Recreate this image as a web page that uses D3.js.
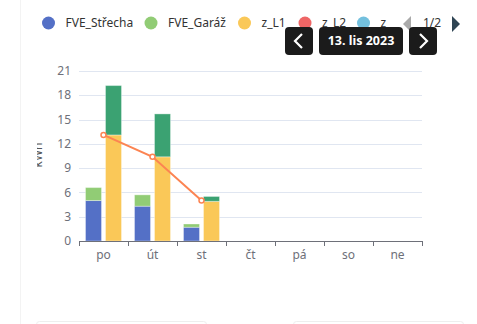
<!DOCTYPE html>
<html><head><meta charset="utf-8">
<script src="https://cdn.jsdelivr.net/npm/d3@7"></script>
<style>body{margin:0;background:#fff;}svg{display:block;font-family:"Noto Sans","Open Sans",sans-serif;}</style>
</head><body><svg id="c" width="477" height="324"></svg>
<script>
const categories = ["po","út","st","čt","pá","so","ne"];
const fveStrecha = [5.0, 4.3, 1.7, 0, 0, 0, 0];
const fveGaraz   = [1.6, 1.4, 0.4, 0, 0, 0, 0];
const zL1        = [13.1, 10.4, 4.9, 0, 0, 0, 0];
const zL2        = [0, 0, 0, 0, 0, 0, 0];
const zL3        = [0, 0, 0, 0, 0, 0, 0];
const zOstatni   = [6.1, 5.3, 0.6, 0, 0, 0, 0];
const lineVals   = [13.1, 10.4, 5.0];
const yTicks = [0,3,6,9,12,15,18,21];
const legendNames = ["FVE_Střecha","FVE_Garáž","z_L1","z_L2","z_L3"];
const legendColors = ["#5470c6","#91cc75","#fac858","#ee6666","#73c0de"];
const dateLabel = "13. lis 2023";
const yUnit = "kWh";

(function(){
const svg = d3.select("#c");
const W=477,H=324;
const pLeft=79,pRight=422,pTop=71,pBottom=241;

// card background edge
svg.append("line").attr("x1",20.5).attr("x2",20.5).attr("y1",0).attr("y2",H).attr("stroke","#f3f3f3");
svg.append("rect").attr("x",36.5).attr("y",321.5).attr("width",170).attr("height",10).attr("rx",3).attr("fill","#fff").attr("stroke","#eeeeee");
svg.append("rect").attr("x",293.5).attr("y",321.5).attr("width",170).attr("height",10).attr("rx",3).attr("fill","#fff").attr("stroke","#eeeeee");

const x = d3.scaleBand().domain(categories).range([pLeft,pRight]);
const y = d3.scaleLinear().domain([0,21]).range([pBottom,pTop]);

// grid
svg.append("g").selectAll("line").data(yTicks.filter(d=>d>0)).join("line")
  .attr("x1",pLeft).attr("x2",pRight).attr("y1",d=>Math.round(y(d))+0.5).attr("y2",d=>Math.round(y(d))+0.5)
  .attr("stroke","#e0e6f1");
// y labels
svg.append("g").selectAll("text").data(yTicks).join("text")
  .attr("x",pLeft-8).attr("y",d=>y(d)).attr("dy","0.35em").attr("text-anchor","end")
  .attr("font-size",12).attr("fill","#6e7079").text(d=>d);

// y unit label (clipped on left)
svg.append("clipPath").attr("id","uclip").append("rect").attr("x",37).attr("y",100).attr("width",20).attr("height",100);
svg.append("g").attr("clip-path","url(#uclip)").append("text")
  .attr("transform","translate(42,155) rotate(-90)").attr("text-anchor","middle")
  .attr("font-size",12).attr("fill","#555").text(yUnit);

// bars
const bw=16, gap=4;
const inner = (x.bandwidth()-2*bw-gap)/2;
function drawStack(vals, base, color, off){
  svg.append("g").selectAll("rect").data(categories).join("rect")
    .attr("x",d=>x(d)+off).attr("width",bw)
    .attr("y",(d,i)=>y(base[i]+vals[i])).attr("height",(d,i)=>y(base[i])-y(base[i]+vals[i]))
    .attr("fill",color).attr("stroke","rgba(255,255,255,0.35)").attr("stroke-width",1)
    .style("display",(d,i)=>vals[i]>0?null:"none");
}
const zero = categories.map(()=>0);
drawStack(fveStrecha, zero, "#5470c6", inner);
drawStack(fveGaraz, fveStrecha, "#91cc75", inner);
drawStack(zL1, zero, "#fac858", inner+bw+gap);
const b2 = zL1.map((v,i)=>v+zL2[i]+zL3[i]);
drawStack(zOstatni, b2, "#3ba272", inner+bw+gap);

// x axis
svg.append("line").attr("x1",pLeft).attr("x2",pRight).attr("y1",pBottom+0.5).attr("y2",pBottom+0.5).attr("stroke","#6e7079");
const bounds = categories.map(c=>x(c)).concat([pRight]);
svg.append("g").selectAll("line").data(bounds).join("line")
  .attr("x1",d=>Math.round(d)+0.5).attr("x2",d=>Math.round(d)+0.5).attr("y1",pBottom).attr("y2",pBottom+5).attr("stroke","#6e7079");
svg.append("g").selectAll("text").data(categories).join("text")
  .attr("x",d=>x(d)+x.bandwidth()/2).attr("y",pBottom+14).attr("dy","0.35em").attr("text-anchor","middle")
  .attr("font-size",12).attr("fill","#6e7079").text(d=>d);

// line
const lx = (d,i)=>x(categories[i])+x.bandwidth()/2;
svg.append("path").datum(lineVals).attr("fill","none").attr("stroke","#fc8452").attr("stroke-width",2)
  .attr("d",d3.line().x(lx).y(d=>y(d)));
svg.append("g").selectAll("circle").data(lineVals).join("circle")
  .attr("cx",lx).attr("cy",d=>y(d)).attr("r",2.5).attr("fill","#fff").attr("stroke","#fc8452").attr("stroke-width",1.5);

// legend
const lg = svg.append("g");
svg.append("clipPath").attr("id","lclip").append("rect").attr("x",30).attr("y",5).attr("width",361).attr("height",30);
const lgi = lg.append("g").attr("clip-path","url(#lclip)");
const legX = [48.5,151,244.5,305,363.5];
legendNames.forEach((n,i)=>{
  lgi.append("circle").attr("cx",legX[i]).attr("cy",23).attr("r",6.5).attr("fill",legendColors[i]);
  lgi.append("text").attr("x",legX[i]+17).attr("y",23).attr("dy","0.35em").attr("font-size",12).attr("fill","#333").text(n);
});
lg.append("path").attr("d","M411,16 L403,24 L411,32 Z").attr("fill","#aaa");
lg.append("text").attr("x",423).attr("y",23).attr("dy","0.35em").attr("font-size",12).attr("fill","#333").text("1/2");
lg.append("path").attr("d","M452,16 L460,24 L452,32 Z").attr("fill","#2f4554");

// date nav buttons
const bt = svg.append("g");
[[285,28],[319,84],[409,28]].forEach(([bx,w])=>{
  bt.append("rect").attr("x",bx).attr("y",27).attr("width",w).attr("height",28).attr("rx",4).attr("fill","#1b1b1b");
});
bt.append("path").attr("d","M302,34 L295,41 L302,48").attr("fill","none").attr("stroke","#fff").attr("stroke-width",2.2);
bt.append("path").attr("d","M420,34 L427,41 L420,48").attr("fill","none").attr("stroke","#fff").attr("stroke-width",2.2);
bt.append("text").attr("x",361).attr("y",41).attr("dy","0.35em").attr("text-anchor","middle")
  .attr("font-size",12.5).attr("font-weight","bold").attr("fill","#fff").text(dateLabel);
})();
</script></body></html>
